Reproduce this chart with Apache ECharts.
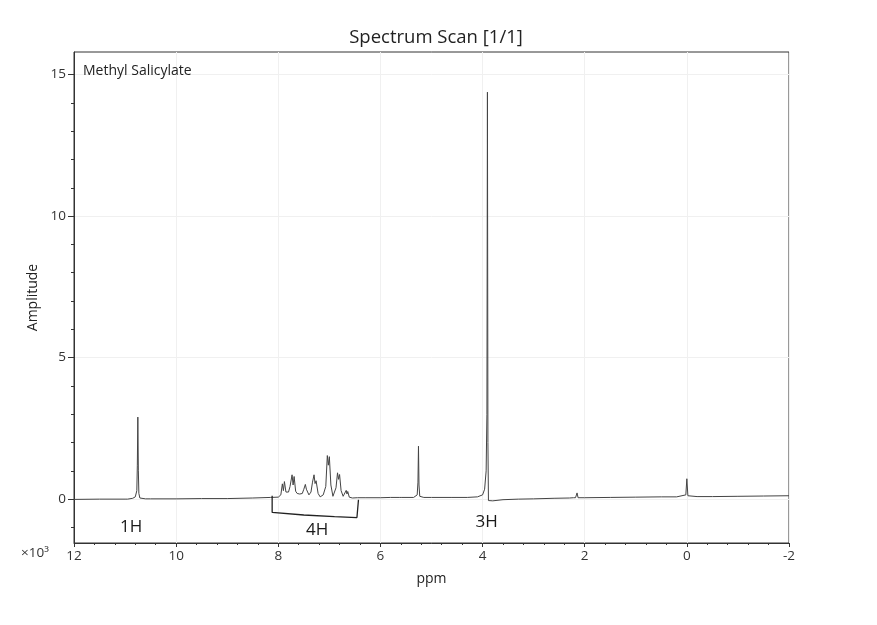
<!DOCTYPE html>
<html>
<head>
<meta charset="utf-8">
<script src="https://cdn.jsdelivr.net/npm/echarts@6/dist/echarts.min.js"></script>
<style>html,body{margin:0;padding:0;background:#fff;}#c{width:877px;height:625px;}</style>
</head>
<body>
<div id="c"></div>
<script>
// ---- data (ppm, amplitude x10^3) ----
const xTicks = [12, 10, 8, 6, 4, 2, 0, -2];
const yTickLabels = [0, 5, 10, 15];
const yMinorTicks = [-1, 0, 1, 2, 3, 4, 5, 6, 7, 8, 9, 10, 11, 12, 13, 14, 15];

const baseline = [[12.0,-0.01],[11.5,0.0],[11.0,0.0],[10.5,0.01],[10.0,0.01],[9.5,0.02],[9.0,0.02],[8.5,0.04],
  [6.3,0.05],[6.0,0.05],[5.8,0.06],[5.0,0.06],[4.6,0.06],[4.3,0.06],
  [3.6,-0.02],[3.3,0.0],[3.0,0.01],[2.6,0.03],[2.3,0.04],[1.5,0.06],[1.0,0.07],[0.5,0.08],
  [-0.5,0.09],[-1.0,0.1],[-1.5,0.11],[-2.0,0.12]];
const hydroxylPeak = [[10.95,0.0],[10.85,0.03],[10.8,0.08],[10.77,0.3],[10.76,1.2],[10.75,2.9],[10.74,1.0],[10.73,0.2],[10.71,0.04],[10.6,0.01]];
const aromaticPeaks = [[8.15,0.06],[8.0,0.07],[7.95,0.15],[7.92,0.54],[7.9,0.3],[7.88,0.62],[7.85,0.25],[7.83,0.18],
  [7.8,0.25],[7.77,0.45],[7.73,0.86],[7.71,0.5],[7.69,0.8],[7.66,0.28],[7.63,0.2],[7.6,0.26],[7.58,0.18],[7.55,0.24],
  [7.53,0.2],[7.5,0.35],[7.47,0.52],[7.45,0.35],[7.43,0.42],[7.4,0.15],[7.36,0.25],[7.33,0.6],[7.3,0.86],[7.28,0.55],
  [7.26,0.65],[7.22,0.2],[7.18,0.08],[7.12,0.15],[7.07,0.45],[7.04,1.54],[7.02,1.2],[7.0,1.5],[6.97,0.5],[6.93,0.1],
  [6.9,0.15],[6.87,0.4],[6.84,0.93],[6.82,0.7],[6.8,0.87],[6.77,0.3],[6.73,0.1],[6.7,0.12],[6.67,0.31],[6.655,0.18],
  [6.64,0.27],[6.61,0.07],[6.55,0.04],[6.45,0.05]];
const smallPeak56 = [[5.62,0.06],[5.6,0.13],[5.58,0.06]];
const peak53 = [[5.35,0.06],[5.28,0.15],[5.265,0.6],[5.255,1.87],[5.245,0.5],[5.23,0.1],[5.15,0.06]];
const methylPeak = [[4.1,0.08],[4.0,0.15],[3.96,0.35],[3.93,1.0],[3.915,3.0],[3.905,14.38],[3.895,2.0],[3.885,-0.05],[3.875,-0.12],[3.8,-0.06]];
const peaks22 = [[2.22,0.05],[2.2,0.12],[2.18,0.05],[2.15,0.22],[2.13,0.05],[2.0,0.05]];
const tmsPeak = [[0.2,0.08],[0.02,0.15],[0.0,0.72],[-0.02,0.12],[-0.2,0.09]];

const annotations = [[10.88,-0.98,'1H'],[7.24,-1.1,'4H'],[3.92,-0.8,'3H']];
const bracket = [[8.12,0.12],[8.12,-0.47],[7.5,-0.56],[6.9,-0.62],[6.46,-0.65],[6.43,-0.6],[6.43,-0.02]];

const spectrum = [].concat(baseline, hydroxylPeak, aromaticPeaks, smallPeak56, peak53, methylPeak, peaks22, tmsPeak)
  .sort((a, b) => b[0] - a[0]);

const chart = echarts.init(document.getElementById('c'), null, {renderer: 'canvas'});
const font = '"Open Sans", "Noto Sans", sans-serif';
chart.setOption({
  animation: false,
  backgroundColor: '#ffffff',
  title: {
    text: 'Spectrum Scan [1/1]', left: 431, top: 23, textAlign: 'center',
    textStyle: {fontFamily: font, fontSize: 18.5, fontWeight: 'normal', color: '#222'}
  },
  grid: {left: 74, right: 88, top: 52, bottom: 82, show: true, borderColor: '#333', borderWidth: 1, containLabel: false},
  graphic: [
    {type: 'text', left: 83, top: 64, z: 100, style: {text: 'Methyl Salicylate', fontFamily: font, fontSize: 14, fill: '#222'}},
    {type: 'text', left: 21, top: 546, z: 100, style: {text: '×10³', fontFamily: font, fontSize: 13.5, fill: '#333'}}
  ],
  xAxis: {
    type: 'value', min: -2, max: 12, interval: 2, inverse: true,
    name: 'ppm', nameLocation: 'middle', nameGap: 29,
    nameTextStyle: {fontFamily: font, fontSize: 14, color: '#222'},
    axisLine: {show: true, onZero: false, lineStyle: {color: '#333', width: 1}},
    axisTick: {show: true, length: 4, lineStyle: {color: '#333'}},
    minorTick: {show: true, splitNumber: 5, length: 2, lineStyle: {color: '#333'}},
    axisLabel: {fontFamily: font, fontSize: 13.5, color: '#333', margin: 6},
    splitLine: {show: true, lineStyle: {color: '#f0f0f0', width: 1}}
  },
  yAxis: [{
    type: 'value', min: -1.55, max: 15.8,
    name: 'Amplitude', nameLocation: 'middle', nameGap: 32,
    nameTextStyle: {fontFamily: font, fontSize: 14, color: '#222'},
    axisLine: {show: true, onZero: false, lineStyle: {color: '#333', width: 1}},
    axisTick: {show: true, length: 6, customValues: yTickLabels, lineStyle: {color: '#333'}},
    axisLabel: {fontFamily: font, fontSize: 13.5, color: '#333', margin: 8, customValues: yTickLabels},
    splitLine: {show: true, lineStyle: {color: '#f0f0f0', width: 1}}
  }, {
    type: 'value', min: -1.55, max: 15.8, position: 'left',
    axisLine: {show: false, onZero: false}, axisLabel: {show: false}, splitLine: {show: false},
    axisTick: {show: true, length: 3, customValues: yMinorTicks, lineStyle: {color: '#333'}}
  }],
  series: [{
    type: 'line', data: spectrum, showSymbol: false, symbol: 'none', smooth: false,
    lineStyle: {color: '#444', width: 1}, z: 3
  }, {
    type: 'line', data: bracket, showSymbol: false, symbol: 'none', smooth: false,
    lineStyle: {color: '#222', width: 1.3}, z: 4
  }, {
    type: 'scatter', symbolSize: 0, data: annotations.map(a => ({value: [a[0], a[1]], name: a[2]})),
    label: {show: true, position: 'inside', formatter: p => p.name, fontFamily: font, fontSize: 17, fontWeight: 'normal', color: '#1a1a1a', opacity: 1}
  }]
});
</script>
</body>
</html>
